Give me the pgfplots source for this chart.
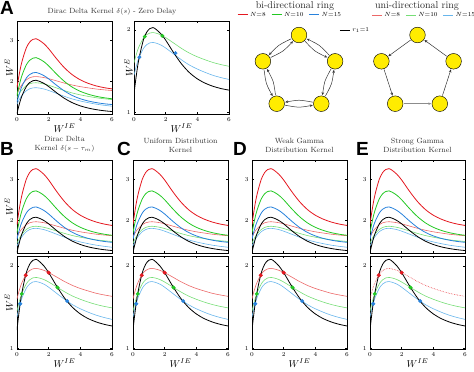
\documentclass[border=0pt]{standalone}
\usepackage{fontspec}
\usepackage{pgfplots}
\pgfplotsset{compat=1.18}
\usepackage{pgfplotstable}
\usetikzlibrary{arrows.meta}
\newfontfamily\lettersf{Liberation Sans}

\definecolor{cR}{RGB}{228,24,32}
\definecolor{cG}{RGB}{34,200,34}
\definecolor{cB}{RGB}{40,130,220}
\definecolor{cRl}{RGB}{236,104,104}
\definecolor{cGl}{RGB}{118,222,118}
\definecolor{cBl}{RGB}{104,182,236}
\definecolor{nodeyellow}{RGB}{255,236,0}
\definecolor{arrowgray}{RGB}{50,50,50}

\pgfplotstableread{
x rb gb bb rl gl bl k
0.0 1.85 1.65 1.50 1.70 1.60 1.45 1.22
0.1 2.088 1.836 1.644 1.784 1.674 1.53 1.382
0.25 2.386 2.069 1.824 1.889 1.767 1.63 1.585
0.4 2.600 2.236 1.954 1.965 1.833 1.702 1.730
0.6 2.826 2.413 2.090 2.044 1.903 1.778 1.884
0.8 2.957 2.515 2.170 2.091 1.944 1.822 1.973
1.0 3.022 2.566 2.209 2.114 1.964 1.844 2.018
1.2 3.040 2.580 2.220 2.120 1.970 1.850 2.030
1.4 3.003 2.550 2.197 2.113 1.962 1.841 2.007
1.7 2.918 2.480 2.142 2.096 1.941 1.818 1.954
2.0 2.796 2.380 2.064 2.069 1.908 1.782 1.878
2.5 2.552 2.180 1.908 2.015 1.843 1.710 1.726
3.0 2.332 2.000 1.768 1.960 1.777 1.638 1.589
3.5 2.162 1.860 1.658 1.913 1.720 1.575 1.483
4.0 2.040 1.760 1.580 1.875 1.675 1.526 1.407
4.5 1.954 1.690 1.526 1.845 1.638 1.485 1.354
5.0 1.893 1.640 1.487 1.817 1.605 1.449 1.316
5.5 1.850 1.605 1.459 1.797 1.580 1.422 1.289
6.0 1.820 1.580 1.440 1.780 1.560 1.400 1.270
}\dataA

\pgfplotstableread{
x rb gb bb rl gl bl k
0.0 1.90 1.70 1.55 1.60 1.45 1.38 1.22
0.1 2.172 1.904 1.706 1.674 1.532 1.466 1.392
0.25 2.512 2.159 1.901 1.767 1.635 1.574 1.607
0.4 2.757 2.343 2.041 1.833 1.708 1.651 1.762
0.6 3.015 2.536 2.190 1.903 1.786 1.733 1.925
0.8 3.165 2.649 2.275 1.944 1.831 1.780 2.020
1.0 3.240 2.705 2.318 1.964 1.854 1.804 2.067
1.2 3.260 2.720 2.330 1.970 1.860 1.810 2.080
1.4 3.219 2.688 2.304 1.963 1.853 1.801 2.056
1.7 3.122 2.612 2.244 1.946 1.834 1.778 1.999
2.0 2.984 2.504 2.158 1.919 1.804 1.741 1.918
2.5 2.708 2.288 1.986 1.865 1.745 1.667 1.756
3.0 2.460 2.094 1.831 1.810 1.686 1.594 1.610
3.5 2.266 1.942 1.711 1.763 1.634 1.529 1.497
4.0 2.128 1.834 1.625 1.725 1.594 1.479 1.416
4.5 2.032 1.759 1.565 1.695 1.560 1.437 1.359
5.0 1.963 1.705 1.522 1.667 1.531 1.401 1.319
5.5 1.914 1.667 1.491 1.647 1.508 1.373 1.290
6.0 1.880 1.640 1.470 1.630 1.490 1.350 1.270
}\dataB

\pgfplotsset{
  panel/.style={scale only axis, width=95pt, height=93pt, anchor=north west,
    xmin=0, xmax=6, xtick={0,2,4,6}, tick align=inside, tick pos=both,
    major tick length=2pt, axis line style={line width=0.4pt},
    every tick/.style={black, line width=0.4pt},
    ticklabel style={font=\fontsize{6.5}{7}\selectfont},
    xlabel style={font=\fontsize{10}{10}\selectfont, inner sep=0pt, yshift=1pt},
    ylabel style={font=\fontsize{10}{10}\selectfont, inner sep=0pt,
      at={(axis description cs:-0.085,0.5)}, anchor=center},
    title style={font=\fontsize{7.5}{8.8}\selectfont, align=center, inner sep=1.5pt, text=black!80}},
  toppanel/.style={panel, ymin=1.21, ymax=3.47, ytick={2,3}},
  botpanel/.style={panel, ymin=0.99, ymax=2.12, ytick={1,2}},
  thinline/.style={line width=0.6pt, smooth},
  thickline/.style={line width=0.8pt, smooth},
  overlayaxis/.style={scale only axis, width=474pt, height=372pt, xmin=0, xmax=474,
    ymin=-372, ymax=0, hide axis, at={(0pt,-372pt)}, anchor=south west, clip=false,
    legend image code/.code={\draw[##1] (0pt,0pt) -- (10pt,0pt);},
    legend style={draw=none, fill=none, anchor=west, legend columns=-1,
      font=\fontsize{6}{7}\selectfont, inner sep=0pt,
      /tikz/every even column/.append style={column sep=3.5pt}}},
  ringarrow/.style={draw=arrowgray, line width=0.5pt, smooth, -{Stealth[length=3pt, width=2.6pt]}},
  dotmark/.style={only marks, mark=*, mark size=1.8pt},
}

\newcommand{\topcurves}[1]{%
  \addplot[cRl, thinline] table[x=x,y=rl]{#1};
  \addplot[cGl, thinline] table[x=x,y=gl]{#1};
  \addplot[cBl, thinline] table[x=x,y=bl]{#1};
  \addplot[cR, thickline] table[x=x,y=rb]{#1};
  \addplot[cG, thickline] table[x=x,y=gb]{#1};
  \addplot[cB, thickline] table[x=x,y=bb]{#1};
  \addplot[black, thickline] table[x=x,y=k]{#1};
}
\newcommand{\botcurves}[2]{%
  \addplot[cRl, thinline, #2] table[x=x,y=rl]{#1};
  \addplot[cGl, thinline] table[x=x,y=gl]{#1};
  \addplot[cBl, thinline] table[x=x,y=bl]{#1};
  \addplot[black, thickline] table[x=x,y=k]{#1};
  \addplot[dotmark, cR] coordinates {(0.55,1.886) (2.0,1.918)};
  \addplot[dotmark, cG] coordinates {(0.30,1.66) (2.56,1.737)};
  \addplot[dotmark, cB] coordinates {(0.204,1.54) (3.17,1.572)};
}

\begin{document}
\begin{tikzpicture}
\useasboundingbox (0,0) rectangle (474pt,-372pt);

% ---------- Panel A ----------
\begin{axis}[toppanel, at={(17pt,-21pt)}, xlabel={$W^{IE}$}, ylabel={$W^{E}$}]
  \topcurves{\dataA}
\end{axis}
\begin{axis}[panel, at={(134pt,-21pt)}, ymin=0.98, ymax=2.11, ytick={1,2},
  xlabel={$W^{IE}$}, ylabel={$W^{E}$},
  ylabel style={at={(axis description cs:-0.055,0.5)}}]
  \addplot[cGl, thinline] table[x=x,y=gl]{\dataA};
  \addplot[cBl, thinline] table[x=x,y=bl]{\dataA};
  \addplot[black, thickline] table[x=x,y=k]{\dataA};
  \addplot[dotmark, cG] coordinates {(0.68,1.92) (1.79,1.93)};
  \addplot[dotmark, cB] coordinates {(0.342,1.67) (2.62,1.72)};
\end{axis}

% ---------- Panel B ----------
\begin{axis}[toppanel, at={(17pt,-160pt)}, xticklabels={}, ylabel={$W^{E}$},
  title={Dirac Delta\\Kernel $\delta(s-\tau_m)$}]
  \topcurves{\dataB}
\end{axis}
\begin{axis}[botpanel, at={(17pt,-256pt)}, xlabel={$W^{IE}$}, ylabel={$W^{E}$}]
  \botcurves{\dataB}{}
\end{axis}

% ---------- Panel C ----------
\begin{axis}[toppanel, at={(133pt,-160pt)}, xticklabels={},
  title={Uniform Distribution\\Kernel}]
  \topcurves{\dataB}
\end{axis}
\begin{axis}[botpanel, at={(133pt,-256pt)}, xlabel={$W^{IE}$}]
  \botcurves{\dataB}{}
\end{axis}

% ---------- Panel D ----------
\begin{axis}[toppanel, at={(252pt,-160pt)}, xticklabels={},
  title={Weak Gamma\\Distribution Kernel}]
  \topcurves{\dataB}
\end{axis}
\begin{axis}[botpanel, at={(252pt,-256pt)}, xlabel={$W^{IE}$}]
  \botcurves{\dataB}{}
\end{axis}

% ---------- Panel E ----------
\begin{axis}[toppanel, at={(370pt,-160pt)}, xticklabels={},
  title={Strong Gamma\\Distribution Kernel}]
  \topcurves{\dataB}
\end{axis}
\begin{axis}[botpanel, at={(370pt,-256pt)}, xlabel={$W^{IE}$}]
  \botcurves{\dataB}{cR!85, densely dotted}
\end{axis}

% ---------- Ring diagrams + bi legend ----------
\begin{axis}[overlayaxis, legend style={at={(0.500,0.960)}}]
  \addlegendimage{cR, line width=0.8pt}\addlegendentry{$N{=}8$}
  \addlegendimage{cG, line width=0.8pt}\addlegendentry{$N{=}10$}
  \addlegendimage{cB, line width=0.8pt}\addlegendentry{$N{=}15$}
  % bi-directional ring: inner arcs (clockwise)
  \addplot[ringarrow] coordinates {(304.99,-41.22) (314.99,-50.98) (327.35,-57.50)};
  \addplot[ringarrow] coordinates {(331.04,-68.92) (324.87,-81.42) (322.50,-95.16)};
  \addplot[ringarrow] coordinates {(312.8,-102.2) (299,-100.2) (285.2,-102.2)};
  \addplot[ringarrow] coordinates {(275.50,-95.16) (273.13,-81.42) (266.96,-68.92)};
  \addplot[ringarrow] coordinates {(270.65,-57.50) (283.01,-50.98) (293.01,-41.22)};
  % bi-directional ring: outer arcs (counter-clockwise)
  \addplot[ringarrow] coordinates {(329.11,-55.08) (319.11,-45.32) (306.75,-38.80)};
  \addplot[ringarrow] coordinates {(325.36,-96.08) (331.53,-83.58) (333.90,-69.84)};
  \addplot[ringarrow] coordinates {(285.2,-105.2) (299,-107.2) (312.8,-105.2)};
  \addplot[ringarrow] coordinates {(264.10,-69.84) (266.47,-83.58) (272.64,-96.08)};
  \addplot[ringarrow] coordinates {(291.25,-38.80) (278.89,-45.32) (268.89,-55.08)};
  % uni-directional ring
  \addplot[ringarrow] coordinates {(410.63,-40.01) (388.27,-56.29)};
  \addplot[ringarrow] coordinates {(384.03,-69.38) (392.57,-95.62)};
  \addplot[ringarrow, draw=black!45] coordinates {(403.7,-103.7) (431.3,-103.7)};
  \addplot[ringarrow] coordinates {(442.43,-95.62) (450.97,-69.38)};
  \addplot[ringarrow] coordinates {(446.73,-56.29) (424.37,-40.01)};
  % nodes
  \addplot[only marks, mark=*, mark size=7.8pt, mark options={fill=nodeyellow, draw=black, line width=0.45pt}]
    coordinates {(299,-35) (335.1,-61.3) (321.3,-103.7) (276.7,-103.7) (262.9,-61.3)
                 (417.5,-35) (453.6,-61.3) (439.8,-103.7) (395.2,-103.7) (381.4,-61.3)};
  \node[font=\fontsize{10}{10}\selectfont, text=black!85] at (axis cs:295,-6) {bi-directional ring};
  \node[font=\fontsize{10}{10}\selectfont, text=black!85] at (axis cs:417,-6) {uni-directional ring};
  % panel titles / letters
  \node[font=\fontsize{7.5}{8.8}\selectfont, text=black!80] at (axis cs:112,-12) {Dirac Delta Kernel $\delta(s)$ - Zero Delay};
  \node[font=\lettersf\bfseries\fontsize{19}{19}\selectfont, anchor=north west, inner sep=0pt] at (axis cs:0,-1) {A};
  \node[font=\lettersf\bfseries\fontsize{19}{19}\selectfont, anchor=north west, inner sep=0pt] at (axis cs:0,-142) {B};
  \node[font=\lettersf\bfseries\fontsize{19}{19}\selectfont, anchor=north west, inner sep=0pt] at (axis cs:117,-142) {C};
  \node[font=\lettersf\bfseries\fontsize{19}{19}\selectfont, anchor=north west, inner sep=0pt] at (axis cs:233,-142) {D};
  \node[font=\lettersf\bfseries\fontsize{19}{19}\selectfont, anchor=north west, inner sep=0pt] at (axis cs:356,-142) {E};
\end{axis}

% ---------- uni legend ----------
\begin{axis}[overlayaxis, legend style={at={(0.784,0.960)}}]
  \addlegendimage{cRl, line width=0.6pt}\addlegendentry{$N{=}8$}
  \addlegendimage{cGl, line width=0.6pt}\addlegendentry{$N{=}10$}
  \addlegendimage{cBl, line width=0.6pt}\addlegendentry{$N{=}15$}
\end{axis}

% ---------- r1 legend ----------
\begin{axis}[overlayaxis, legend style={at={(0.716,0.919)}}]
  \addlegendimage{black, line width=0.8pt}\addlegendentry{$r_1{=}1$}
\end{axis}
\end{tikzpicture}
\end{document}
